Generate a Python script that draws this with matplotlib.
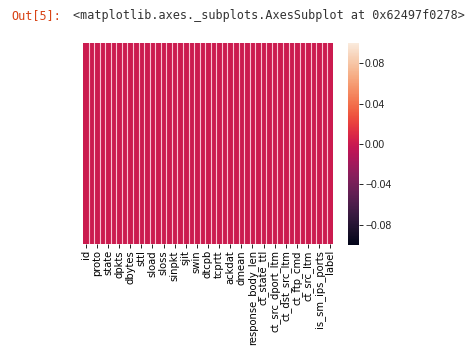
import matplotlib
matplotlib.use('Agg')
import matplotlib.pyplot as plt
import numpy as np
import pandas as pd
import seaborn as sns

# --- Data ---
columns = ['id', 'dur', 'proto', 'service', 'state', 'spkts', 'dpkts', 'sbytes',
           'dbytes', 'rate', 'sttl', 'dttl', 'sload', 'dload', 'sloss', 'dloss',
           'sinpkt', 'dinpkt', 'sjit', 'djit', 'swin', 'stcpb', 'dtcpb', 'dwin',
           'tcprtt', 'synack', 'ackdat', 'smean', 'dmean', 'trans_depth',
           'response_body_len', 'ct_srv_src', 'ct_state_ttl', 'ct_dst_ltm',
           'ct_src_dport_ltm', 'ct_dst_sport_ltm', 'ct_dst_src_ltm', 'is_ftp_login',
           'ct_ftp_cmd', 'ct_flw_http_mthd', 'ct_src_ltm', 'ct_srv_dst',
           'is_sm_ips_ports', 'attack_cat', 'label']
n_rows = 60
# df.isnull(): no missing values anywhere
is_null = pd.DataFrame(np.zeros((n_rows, len(columns)), dtype=bool), columns=columns)

out_prompt = 'Out[5]:'
out_repr = '<matplotlib.axes._subplots.AxesSubplot at 0x62497f0278>'

# --- Plotting ---
fig = plt.figure(figsize=(4.74, 3.53), dpi=100)
ax = fig.add_axes([0.175, 0.309, 0.5275, 0.569])
cax = fig.add_axes([0.734, 0.306, 0.023, 0.572])

sns.heatmap(is_null.astype(int), ax=ax, cbar_ax=cax, vmin=-0.1, vmax=0.1,
            xticklabels=2, yticklabels=False)

# light stripes between the columns
for i in range(1, len(columns)):
    ax.axvline(i, color='#f9c0d0', linewidth=0.8)

ax.tick_params(axis='x', labelsize=7.2, length=3, width=0.6, pad=1.5)
plt.setp(ax.get_xticklabels(), rotation=90)

cax.set_yticks([-0.08, -0.04, 0.0, 0.04, 0.08])
cax.set_yticklabels(['\u22120.08', '\u22120.04', '0.00', '0.04', '0.08'],
                    family='Liberation Sans', fontsize=7.5, color='#222222')
cax.tick_params(length=3, width=0.6, pad=1.5)

# notebook output line
fig.text(0.025, 0.955, out_prompt, color='#d84315', fontsize=8.5,
         family='DejaVu Sans Mono', va='center')
fig.text(0.153, 0.955, out_repr, color='#333333', fontsize=8.5,
         family='DejaVu Sans Mono', va='center')

plt.savefig('out.png', dpi=100)
